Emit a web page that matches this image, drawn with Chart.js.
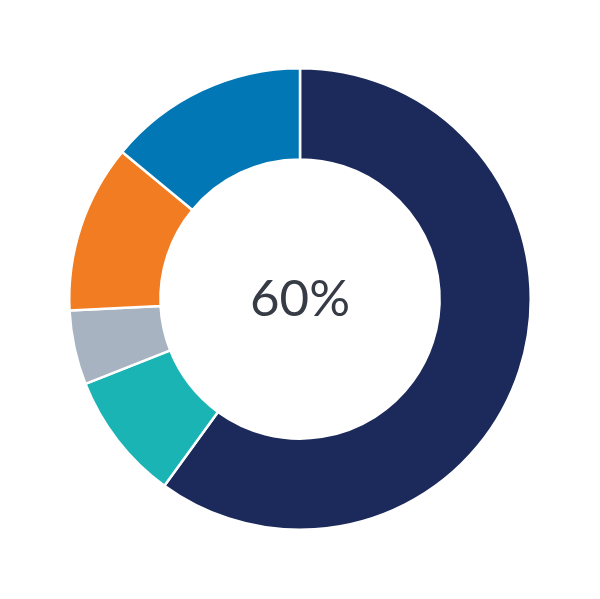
<!DOCTYPE html>
<html>
<head>
<meta charset="utf-8">
<script src="https://cdn.jsdelivr.net/npm/chart.js@4"></script>
<style>
  html, body { margin: 0; padding: 0; background: #fff; }
  #wrap { width: 600px; height: 599px; }
</style>
</head>
<body>
<div id="wrap"><canvas id="donut"></canvas></div>
<script>
// ---------- data ----------
const categories = ['Navy', 'Teal', 'Gray', 'Orange', 'Blue'];
const values = [60, 9, 5.2, 11.8, 14];
const colors = ['#1b2a5b', '#1ab4b5', '#a8b3c2', '#f27c21', '#0277b6'];
const centerLabel = '60%';

// draws the big label in the hole
const centerText = {
  id: 'centerText',
  afterDraw(chart) {
    const meta = chart.getDatasetMeta(0).data[0];
    if (!meta) return;
    const ctx = chart.ctx;
    ctx.save();
    ctx.font = '51px Lato, "Open Sans", sans-serif';
    ctx.fillStyle = '#363b45';
    ctx.textAlign = 'center';
    ctx.textBaseline = 'middle';
    ctx.fillText(centerLabel, meta.x, meta.y + 1);
    ctx.restore();
  }
};

new Chart(document.getElementById('donut'), {
  type: 'doughnut',
  data: {
    labels: categories,
    datasets: [{
      data: values,
      backgroundColor: colors,
      borderColor: '#ffffff',
      borderWidth: 2.5
    }]
  },
  options: {
    responsive: true,
    maintainAspectRatio: false,
    animation: false,
    cutout: '60.5%',
    layout: { padding: { top: 67, bottom: 68, left: 68, right: 68 } },
    plugins: {
      legend: { display: false },
      tooltip: { enabled: false }
    }
  },
  plugins: [centerText]
});
</script>
</body>
</html>
